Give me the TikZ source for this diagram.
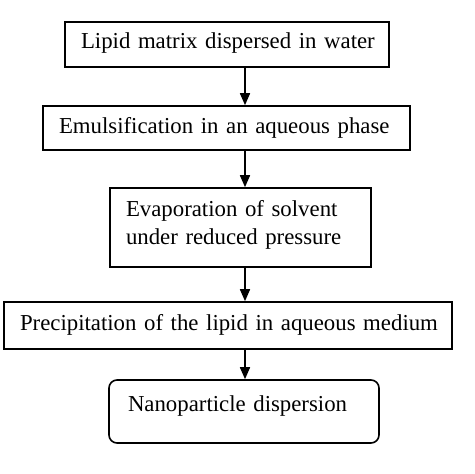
\documentclass[tikz,border=0pt]{standalone}
\usepackage{fontspec}
\setmainfont{Liberation Serif}
\usetikzlibrary{arrows.meta}

\begin{document}
\begin{tikzpicture}[x=0.5pt,y=-0.5pt]
    
    \def\padding{8pt}; % space left of the text
    \def\arrowX{245}; % x-pos of the arrows
    \def\lineWidth{0.8pt};
    \tikzset{
        stepBox/.style={draw, rectangle, line width=\lineWidth, inner xsep=\padding, inner ysep=0pt, align=left, font=\fontsize{11.4}{14}\selectfont},
        flowArrow/.style={-{Triangle[length=6pt,width=5pt]}, line width=\lineWidth}
    }
    \useasboundingbox (0,0) rectangle (474,474);
    
    %%% steps %%%
    \node[stepBox, text width=146pt, text height=13.5pt, text depth=9pt] (lipid) at (227,44.5) {\mbox{Lipid matrix dispersed in water}};
    \node[stepBox, text width=167.5pt, text height=14pt, text depth=8pt] (emul) at (226.5,128) {\mbox{Emulsification in an aqueous phase}};
    \node[stepBox, text width=114.5pt, text height=14.5pt, text depth=25pt] (evap) at (240.5,227.5) {\mbox{Evaporation of solvent}\\\mbox{under reduced pressure}};
    \node[stepBox, text width=208pt, text height=14pt, text depth=9.5pt] (precip) at (228,325.5) {\mbox{Precipitation of the lipid in aqueous medium}};
    
    % last box has round corners
    \node[stepBox, rounded corners=4pt, inner xsep=9.5pt, text width=116pt, text height=15.5pt, text depth=16pt] (nano) at (244,411.5) {\mbox{Nanoparticle dispersion}};
    
    %%% arrows %%%
    \coordinate (axis) at (\arrowX,0);
    \foreach \from/\to in {lipid/emul, emul/evap, evap/precip, precip/nano}
        \draw[flowArrow] (\from.south -| axis) -- (\to.north -| axis);
    
\end{tikzpicture}
\end{document}
